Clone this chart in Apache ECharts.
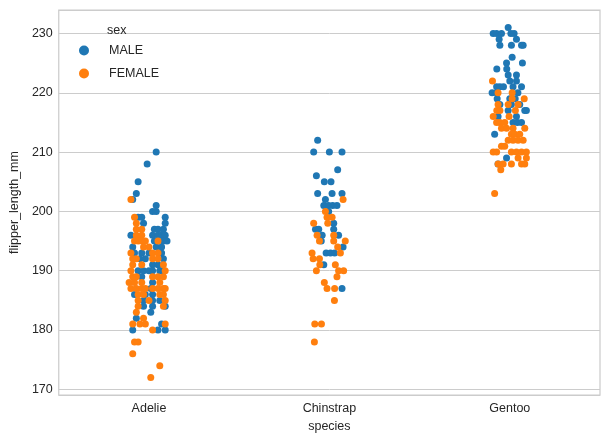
<!DOCTYPE html>
<html><head><meta charset="utf-8">
<script src="https://cdn.jsdelivr.net/npm/echarts@6/dist/echarts.min.js"></script>
<style>html,body{margin:0;padding:0;background:#fff}#c{width:610px;height:443px}</style>
</head><body><div id="c"></div>
<script>
const categories = ['Adelie', 'Chinstrap', 'Gentoo'];
const hueLevels = ['MALE', 'FEMALE'];
const hueColors = ['#1f77b4', '#ff7f0e'];

// points: [jitter offset from category centre, flipper_length_mm]
const adelieMale = [
  [0.04,210],[-0.01,208],[-0.06,205],[-0.07,203],[-0.09,202],[0.04,201],[0.02,200],[0.04,200],
  [-0.06,199],[-0.04,199],[0.09,199],[0.09,198],[-0.03,198],
  [0.03,197],[0.05,197],[0.08,197],
  [-0.10,196],[0.02,196],[0.05,196],[0.07,196],[0.09,196],
  [0.03,195],[0.05,195],[0.08,195],[0.10,195],
  [-0.09,194],[0.04,194],[0.07,194],
  [-0.08,193],[-0.04,193],[0.00,193],[0.07,193],
  [-0.05,192],[-0.02,192],[0.08,192],
  [0.02,191],[0.05,191],
  [-0.06,190],[-0.03,190],[0.00,190],[0.02,190],[0.06,190],[0.07,190],
  [-0.04,189],[0.02,188],[0.01,187],
  [-0.08,186],[-0.02,186],[0.02,186],
  [-0.03,185],[0.02,185],[0.06,185],
  [-0.03,184],[0.02,184],[0.09,184],
  [0.01,183],[-0.07,182],[0.07,181],
  [-0.09,180],[0.05,180],[0.09,180]
];
const adelieFemale = [
  [-0.10,202],[-0.08,199],[-0.07,198],
  [-0.07,197],[-0.04,197],
  [-0.07,196],[-0.04,196],
  [-0.08,195],[-0.06,195],[-0.04,195],[-0.02,195],[0.05,195],
  [-0.03,194],[0.00,194],
  [-0.10,193],[0.02,193],[0.05,193],
  [-0.09,192],[-0.07,192],[0.02,192],[0.05,192],
  [-0.09,191],[-0.04,191],[0.08,191],
  [-0.10,190],[0.09,190],
  [-0.09,189],[-0.07,189],[0.02,189],[0.05,189],[0.08,189],
  [-0.11,188],[-0.08,188],[-0.04,188],[0.06,188],
  [-0.10,187],[-0.07,187],[-0.04,187],[-0.02,187],[0.02,187],[0.05,187],[0.08,187],[0.09,187],
  [-0.06,186],[-0.03,186],[0.06,186],[0.08,186],
  [-0.06,185],[0.00,185],[0.09,185],
  [-0.06,184],[0.08,184],
  [-0.07,183],[-0.03,182],
  [-0.09,181],[-0.05,181],[-0.02,181],[0.09,181],
  [0.02,180],[-0.08,178],[-0.06,178],[-0.09,176],[0.06,174],[0.01,172]
];
const chinstrapMale = [
  [-0.065,212],[-0.087,210],[0.0,210],[0.07,210],[0.046,207],[-0.072,206],[-0.028,205],[0.009,205],
  [-0.065,203],[0.015,203],[0.07,203],[-0.022,202],[-0.031,201],[-0.004,201],[0.018,201],[0.042,201],
  [-0.004,200],[0.024,198],[-0.077,197],[-0.059,197],[0.024,197],[-0.04,196],[0.051,196],[-0.045,195],
  [0.076,194],[-0.018,193],[0.006,193],[0.029,193],[-0.031,191],[0.07,187]
];
const chinstrapFemale = [
  [0.076,202],[-0.022,200],[-0.013,199],[0.015,199],[-0.087,198],[-0.009,198],[-0.068,196],[0.024,196],
  [-0.055,195],[0.024,195],[0.088,195],[0.046,194],[-0.096,193],[0.061,193],[-0.09,192],[-0.055,192],
  [-0.053,191],[0.033,191],[-0.072,190],[0.051,190],[0.079,190],[0.042,189],[-0.028,188],[-0.013,187],
  [0.029,187],[0.028,185],[-0.081,181],[-0.044,181],[-0.083,178]
];
const gentooMale = [
  [-0.009,231],[-0.092,230],[-0.073,230],[-0.046,230],[0.006,230],[0.024,230],[-0.059,229],[0.037,229],
  [-0.055,228],[0.009,228],[0.065,228],[0.074,228],[0.013,226],[-0.018,225],[0.07,225],[-0.072,224],
  [-0.017,224],[-0.009,223],[0.037,223],[0.0,222],[0.037,222],[-0.073,221],[-0.055,221],[0.018,221],
  [0.065,221],[-0.035,221],[-0.098,220],[-0.073,220],[0.045,220],[-0.07,219],[0.0,219],[0.03,219],
  [0.009,218],[-0.055,218],[0.055,218],[-0.009,217],[0.083,217],[0.092,217],[-0.065,216],[0.037,216],
  [0.018,215],[0.042,215],[0.065,215],[-0.084,213],[-0.018,209],[-0.065,208]
];
const gentooFemale = [
  [-0.096,222],[-0.065,220],[0.013,220],[0.013,219],[0.08,219],[-0.065,218],[-0.009,218],[0.046,218],
  [-0.072,217],[-0.055,217],[0.031,217],[-0.092,216],[-0.004,216],[-0.055,215],[-0.028,215],[-0.073,215],
  [-0.046,214],[-0.018,214],[0.018,214],[0.083,214],[0.009,213],[0.028,213],[0.055,213],[-0.009,212],
  [0.018,212],[0.046,212],[0.074,212],[-0.046,211],[-0.028,211],[-0.092,210],[-0.073,210],[0.009,210],
  [0.037,210],[0.065,210],[0.092,210],[0.046,209],[0.092,209],[-0.065,208],[-0.037,208],[0.009,208],
  [0.065,208],[0.083,208],[-0.05,207],[-0.084,203]
];

const byHue = [
  [adelieMale, chinstrapMale, gentooMale],
  [adelieFemale, chinstrapFemale, gentooFemale]
];
const FONT = 'Liberation Sans, Arial, sans-serif';
const TEXT = '#262626';

const series = hueLevels.map((name, h) => ({
  name: name,
  type: 'scatter',
  xAxisIndex: 1,
  symbol: 'circle',
  symbolSize: 7,
  itemStyle: { color: hueColors[h], opacity: 1 },
  emphasis: { disabled: true },
  data: byHue[h].flatMap((pts, ci) => pts.map(p => [ci + p[0], p[1]]))
}));

const chart = echarts.init(document.getElementById('c'), null, { renderer: 'canvas' });
chart.setOption({
  animation: false,
  backgroundColor: '#ffffff',
  textStyle: { fontFamily: FONT },
  title: {
    text: 'sex', left: 107, top: 24, padding: 0,
    textStyle: { fontFamily: FONT, fontSize: 12.5, fontWeight: 'normal', color: TEXT }
  },
  legend: {
    data: hueLevels, orient: 'vertical', left: 79, top: 44, padding: 0,
    icon: 'circle', itemWidth: 10, itemHeight: 10, itemGap: 10,
    textStyle: { fontFamily: FONT, fontSize: 12.5, color: TEXT, padding: [0, 0, 0, 15] }
  },
  grid: {
    left: 58, right: 10, top: 10, bottom: 48, show: true,
    borderColor: '#cccccc', borderWidth: 1.25, backgroundColor: '#ffffff', containLabel: false
  },
  xAxis: [
    {
      type: 'category', data: categories, boundaryGap: true,
      axisLine: { show: false }, axisTick: { show: false }, splitLine: { show: false },
      axisLabel: { color: TEXT, fontSize: 12.5, fontFamily: FONT, margin: 7 },
      name: 'species', nameLocation: 'middle', nameGap: 24,
      nameTextStyle: { color: TEXT, fontSize: 12.5, fontFamily: FONT }
    },
    { type: 'value', min: -0.5, max: 2.5, show: false }
  ],
  yAxis: {
    type: 'value', min: 169.05, max: 233.95, splitNumber: 6, minInterval: 10, maxInterval: 10,
    axisLine: { show: false }, axisTick: { show: false },
    splitLine: { show: true, lineStyle: { color: '#cccccc', width: 1 } },
    axisLabel: {
      color: TEXT, fontSize: 12.5, fontFamily: FONT, margin: 6,
      formatter: v => (Math.abs(v % 10) < 1e-6 ? String(v) : '')
    },
    name: 'flipper_length_mm', nameLocation: 'middle', nameGap: 36, nameRotate: 90,
    nameTextStyle: { color: TEXT, fontSize: 12.5, fontFamily: FONT }
  },
  series: series
});
</script></body></html>
